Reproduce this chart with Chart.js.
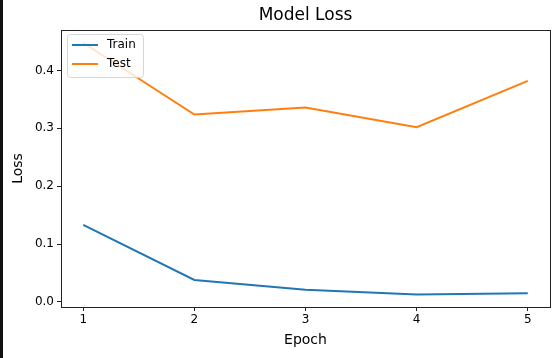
<!DOCTYPE html>
<html>
<head>
<meta charset="utf-8">
<script src="https://cdn.jsdelivr.net/npm/chart.js@4"></script>
<style>
  body { margin: 0; background: #fff; }
  #wrap { position: relative; width: 557px; height: 358px; }
  #strip { position: absolute; left: 0; top: 0; width: 3px; height: 358px; background: #111; }
  canvas { position: absolute; left: 0; top: 0; }
</style>
</head>
<body>
<div id="wrap">
  <canvas id="lossChart" width="557" height="358"></canvas>
  <div id="strip"></div>
</div>
<script>
// data
const epochs = [1, 2, 3, 4, 5];
const trainLoss = [0.133, 0.038, 0.021, 0.013, 0.015];
const testLoss = [0.448, 0.324, 0.336, 0.302, 0.382];
const yTicks = [0.0, 0.1, 0.2, 0.3, 0.4];

const FONT = "'DejaVu Sans', sans-serif";

// box round the plot area + title
const framePlugin = {
    id: 'frame',
    afterDraw(chart) {
        const { ctx, chartArea: a } = chart;
        ctx.save();
        ctx.strokeStyle = '#222';
        ctx.lineWidth = 1;
        ctx.strokeRect(a.left + 0.5, a.top + 0.5, a.right - a.left, a.bottom - a.top);
        ctx.fillStyle = '#000';
        ctx.font = '17px ' + FONT;
        ctx.textAlign = 'center';
        ctx.textBaseline = 'middle';
        ctx.fillText('Model Loss', (a.left + a.right) / 2, 16);
        ctx.restore();
    }
};

// matplotlib style legend in the upper left
const legendPlugin = {
    id: 'innerLegend',
    afterDraw(chart) {
        const { ctx, chartArea: a } = chart;
        const x = a.left + 6, y = a.top + 4, w = 76, h = 43;
        ctx.save();
        ctx.fillStyle = 'rgba(255,255,255,0.8)';
        ctx.strokeStyle = '#d6d6d6';
        ctx.lineWidth = 1;
        ctx.beginPath();
        ctx.roundRect(x + 0.5, y + 0.5, w, h, 3);
        ctx.fill();
        ctx.stroke();
        ctx.font = '12px ' + FONT;
        ctx.textBaseline = 'middle';
        chart.data.datasets.forEach((ds, i) => {
            const ly = y + 11 + i * 19;
            ctx.strokeStyle = ds.borderColor;
            ctx.lineWidth = 2;
            ctx.beginPath();
            ctx.moveTo(x + 5, ly);
            ctx.lineTo(x + 31, ly);
            ctx.stroke();
            ctx.fillStyle = '#000';
            ctx.fillText(ds.label, x + 40, ly);
        });
        ctx.restore();
    }
};

new Chart(document.getElementById('lossChart'), {
    type: 'line',
    data: {
        datasets: [
            { label: 'Train', data: epochs.map((e, i) => ({ x: e, y: trainLoss[i] })), borderColor: '#1f77b4', borderWidth: 2, pointRadius: 0, tension: 0 },
            { label: 'Test', data: epochs.map((e, i) => ({ x: e, y: testLoss[i] })), borderColor: '#ff7f0e', borderWidth: 2, pointRadius: 0, tension: 0 }
        ]
    },
    options: {
        responsive: false,
        animation: false,
        layout: { padding: { top: 30, right: 7, left: 0, bottom: 0 } },
        plugins: { legend: { display: false }, tooltip: { enabled: false } },
        scales: {
            x: {
                type: 'linear',
                min: 0.8,
                max: 5.2,
                afterBuildTicks: (s) => { s.ticks = epochs.map(v => ({ value: v })); },
                ticks: { color: '#000', font: { family: FONT, size: 12 }, padding: 2 },
                grid: { drawOnChartArea: false, tickLength: 4, tickColor: '#222' },
                border: { color: '#222' },
                title: { display: true, text: 'Epoch', color: '#000', font: { family: FONT, size: 14 }, padding: { top: 2, bottom: 9 } },
                afterFit: (s) => { s.height = 51; }
            },
            y: {
                min: -0.0088,
                max: 0.47,
                afterBuildTicks: (s) => { s.ticks = yTicks.map(v => ({ value: v })); },
                ticks: { color: '#000', font: { family: FONT, size: 12 }, padding: 3, callback: (v) => v.toFixed(1) },
                grid: { drawOnChartArea: false, tickLength: 4, tickColor: '#222' },
                border: { color: '#222' },
                title: { display: true, text: 'Loss', color: '#000', font: { family: FONT, size: 14 }, padding: { top: 10, bottom: 2 } },
                afterFit: (s) => { s.width = 61; }
            }
        }
    },
    plugins: [framePlugin, legendPlugin]
});
</script>
</body>
</html>
